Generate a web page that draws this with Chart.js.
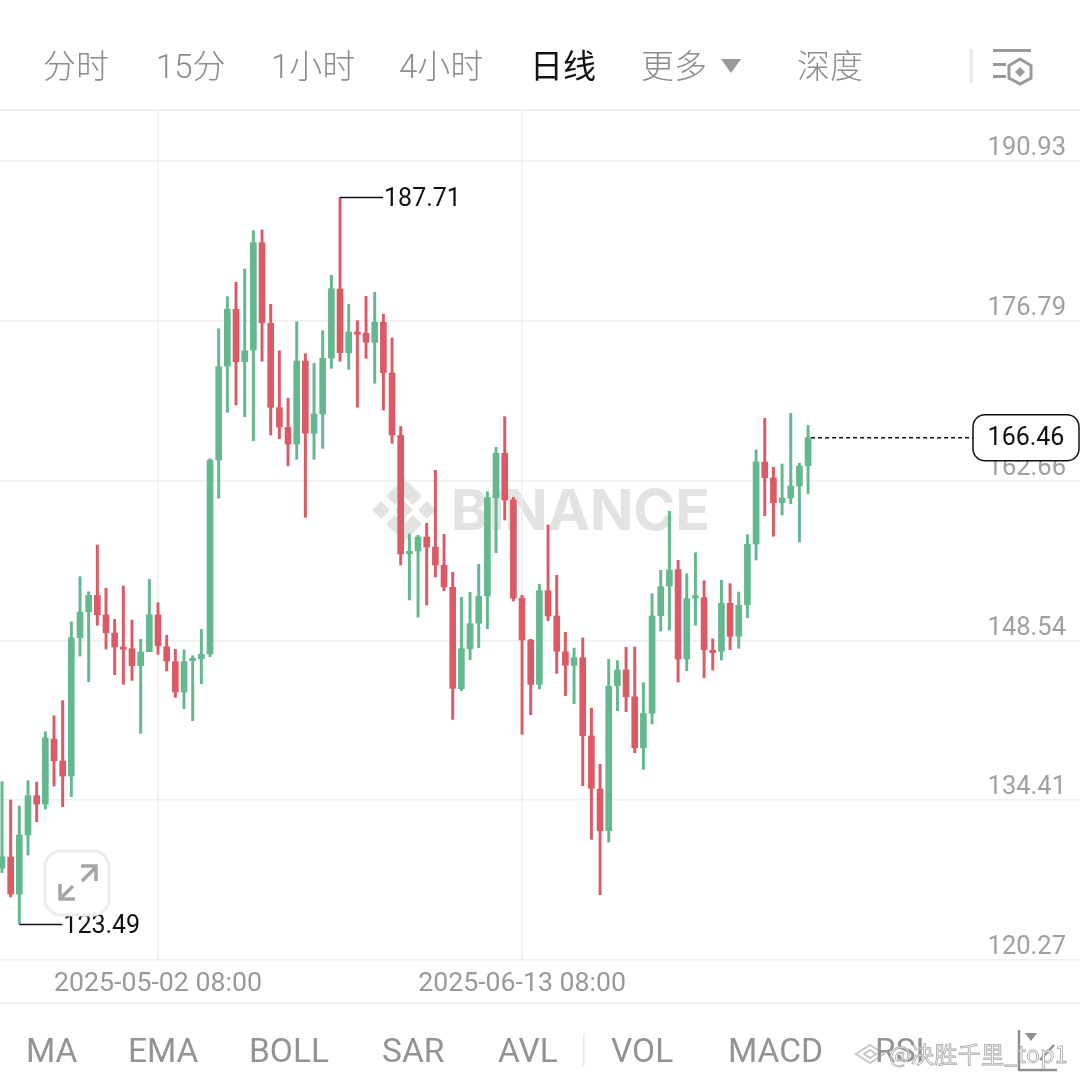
<!DOCTYPE html>
<html lang="zh"><head><meta charset="utf-8">
<script src="https://cdn.jsdelivr.net/npm/chart.js@4"></script>
<style>
html,body{margin:0;padding:0;background:#fff;width:1080px;height:1080px;overflow:hidden}
#wrap{position:relative;width:1080px;height:1080px;font-family:"Noto Sans CJK SC","Roboto",sans-serif}
canvas{position:absolute;left:0;top:0;z-index:2}
.t{position:absolute;white-space:nowrap;line-height:1;z-index:3}
.h{font:300 33px "Noto Sans CJK SC",sans-serif;color:#8c8c8c;top:40px}
.h .n{font-family:Roboto,sans-serif}
.b{font:400 33.5px Roboto,sans-serif;color:#939393;top:1031px}
.rule{position:absolute;z-index:1;background:#f0f0f0}
svg{position:absolute;z-index:3;overflow:visible}
#mark{position:absolute;left:451px;top:476px;font:700 57px Inter,sans-serif;color:#e3e3e3;letter-spacing:-.2px;z-index:1;line-height:68px}
#wm{position:absolute;left:889px;top:1041px;font:400 23px "Noto Sans CJK SC",sans-serif;color:rgba(255,255,255,.85);-webkit-text-stroke:.8px #a8a8a8;z-index:4;white-space:nowrap;line-height:1.1;letter-spacing:.3px}
</style></head><body>
<div id="wrap">
<div class="t h" style="left:43px">分时</div>
<div class="t h" style="left:156px"><span class="n">15</span>分</div>
<div class="t h" style="left:271px"><span class="n">1</span>小时</div>
<div class="t h" style="left:399px"><span class="n">4</span>小时</div>
<div class="t h" style="left:530px;color:#111;font-weight:400">日线</div>
<div class="t h" style="left:641px">更多</div>
<div class="t h" style="left:797px">深度</div>
<svg style="left:0;top:0" width="1080" height="1080">
  <polygon points="721,59 741,59 731,73" fill="#999"/>
  <rect x="970" y="49" width="2.5" height="34" fill="#e6e6e6"/>
  <rect x="993" y="49" width="38" height="3" fill="#999"/>
  <rect x="993" y="63" width="13" height="3" fill="#999"/>
  <rect x="993" y="75" width="13" height="3" fill="#999"/>
  <polygon points="1020,59 1031,65.5 1031,78 1020,84 1009,78 1009,65.5" fill="none" stroke="#999" stroke-width="3"/>
  <polygon points="1020,67 1025,72 1020,77 1015,72" fill="#999"/>
  <rect x="583" y="1034" width="1.5" height="32" fill="#e6e6e6"/>
  <line x1="1019" y1="1030" x2="1019" y2="1071" stroke="#8f8f8f" stroke-width="2.5"/>
  <line x1="1019" y1="1070" x2="1057" y2="1070" stroke="#8f8f8f" stroke-width="2.5"/>
  <polygon points="1025,1033 1037,1033 1031,1041" fill="#8f8f8f"/>
  <line x1="1040" y1="1060" x2="1054" y2="1045" stroke="#8f8f8f" stroke-width="2.5"/>
  <g fill="none" stroke="#c8c8c8" stroke-width="2">
    <polygon points="870,1045 884,1054 870,1063 856,1054"/>
    <polygon points="870,1050 876,1054 870,1058 864,1054"/>
  </g>
</svg>
<div class="rule" style="left:0;top:109px;width:1080px;height:2px"></div>
<div class="rule" style="left:0;top:1002px;width:1080px;height:1.5px"></div>
<svg style="left:0;top:0;z-index:1" width="1080" height="1080">
  <g fill="#e3e3e3">
    <polygon points="404,478 422,496 413,505 404,496 395,505 386,496"/>
    <polygon points="404,542 386,524 395,515 404,524 413,515 422,524"/>
    <polygon points="381,501 390,510 381,519 372,510"/>
    <polygon points="427,501 436,510 427,519 418,510"/>
    <polygon points="404,501 413,510 404,519 395,510"/>
  </g>
</svg>
<div id="mark">BINANCE</div>
<canvas id="c" width="1080" height="1080"></canvas>
<svg style="left:0;top:0;z-index:3" width="1080" height="1080">
  <rect x="45" y="851" width="64" height="64" rx="16" fill="rgba(255,255,255,.92)" stroke="#ededed" stroke-width="3"/>
  <g fill="none" stroke="#a6a6a6" stroke-width="3.5">
    <path d="M62 897 L73 886 M60 884 V899 H75"/>
    <path d="M96 867 L82 881 M81 866 H96 V881"/>
  </g>
</svg>
<div class="t b" style="left:26px">MA</div>
<div class="t b" style="left:128px">EMA</div>
<div class="t b" style="left:249px">BOLL</div>
<div class="t b" style="left:382px">SAR</div>
<div class="t b" style="left:498px">AVL</div>
<div class="t b" style="left:611px">VOL</div>
<div class="t b" style="left:728px">MACD</div>
<div class="t b" style="left:875px">RSI</div>
<div id="wm">@决胜千里_top1</div>
</div>
<script>
const tickDays = [18, 60];
const tickLabels = ['2025-05-02 08:00', '2025-06-13 08:00'];
const priceTicks = [190.93, 176.79, 162.66, 148.54, 134.41, 120.27];
const lastPrice = 166.46;

const opens = [128.40,129.38,126.10,131.32,134.80,134.06,139.81,137.87,136.54,148.77,151.07,152.52,150.78,149.19,147.95,147.80,146.30,147.53,150.78,147.98,146.65,143.97,146.74,146.91,147.33,164.49,172.80,177.82,173.18,174.22,183.71,176.58,169.11,167.38,165.90,173.24,166.85,168.56,173.51,179.61,173.98,175.81,175.69,174.90,176.67,172.18,166.67,156.20,156.44,157.68,156.79,155.17,153.23,144.26,147.80,150.05,152.46,161.15,165.08,160.95,152.28,148.57,144.65,152.93,150.69,147.53,146.33,147.00,140.08,135.39,131.70,144.53,145.92,143.55,139.04,142.09,150.72,153.34,154.79,146.89,152.28,152.31,147.66,147.57,151.81,148.90,151.69,157.06,164.31,162.90,160.71,161.13,162.19,163.98];
const highs = [136.04,134.42,133.89,136.13,136.01,140.46,141.87,143.20,150.19,154.17,152.84,156.97,153.14,150.40,153.34,150.34,148.63,153.94,151.87,148.98,147.75,147.68,147.18,149.51,164.60,176.10,178.93,180.20,181.38,184.77,184.83,178.26,174.15,169.94,176.72,173.89,173.04,175.92,180.82,187.71,178.26,176.81,178.97,179.32,177.37,175.28,167.45,157.94,157.83,158.89,163.58,157.92,154.56,152.34,152.79,155.26,161.68,165.61,168.32,161.19,152.52,148.63,153.49,158.74,154.29,149.25,147.86,148.75,142.55,137.58,146.86,146.74,147.92,147.95,144.79,152.66,154.73,159.95,155.62,154.43,156.29,153.81,148.66,153.85,153.55,152.81,157.88,165.37,168.17,163.84,164.13,168.62,164.20,167.56];
const lows = [127.99,125.84,123.49,129.55,132.50,133.62,135.66,133.83,134.71,147.15,144.88,149.87,147.77,145.50,144.65,145.00,140.32,147.53,147.30,145.83,143.50,142.49,141.43,144.70,147.09,161.10,168.71,169.35,168.32,166.19,173.22,166.70,166.37,163.98,164.55,159.42,164.55,165.52,172.60,173.22,172.51,169.15,173.48,171.27,168.91,165.96,155.20,152.11,150.60,151.66,154.14,152.93,141.55,144.09,146.83,147.89,149.57,156.29,159.18,152.02,140.23,141.96,144.23,150.28,145.62,143.64,142.93,135.68,130.94,126.04,130.70,142.32,142.23,138.60,137.13,141.14,149.36,149.45,144.85,145.85,149.87,145.23,145.92,146.80,147.71,147.84,150.54,155.64,159.56,157.74,159.62,160.62,157.24,161.51];
const closes = [129.40,126.10,131.32,134.80,134.06,139.90,137.89,136.54,148.77,151.04,152.52,150.81,149.21,147.95,147.75,146.30,147.51,150.81,148.06,146.71,143.97,146.65,146.95,147.30,164.49,172.74,177.82,173.18,174.15,183.71,176.63,169.15,167.41,165.90,173.24,166.85,168.56,173.48,179.64,173.98,175.81,175.60,174.90,176.67,172.21,166.70,156.17,156.41,157.68,156.79,155.20,153.26,144.30,147.80,150.01,152.43,161.15,165.08,160.95,152.28,148.57,144.65,152.93,150.69,147.57,146.33,147.00,140.11,135.45,131.70,144.50,145.92,143.55,139.04,142.09,150.69,153.28,154.76,146.89,152.22,152.49,147.71,147.45,151.81,148.90,151.64,157.03,164.31,162.92,160.71,161.13,162.19,163.96,166.46];

const GREEN = '#63b88e', RED = '#dc5a66';
const candleColors = opens.map((o, i) => closes[i] >= o ? GREEN : RED);

const annotate = {
  id: 'annotate',
  afterDatasetsDraw(chart) {
    const { ctx, scales: { x, y } } = chart;
    const hi = Math.max(...highs), lo = Math.min(...lows);
    ctx.save();
    ctx.font = '400 25px Roboto, sans-serif';
    ctx.textBaseline = 'middle';
    ctx.fillStyle = '#111';
    ctx.strokeStyle = '#111';
    ctx.lineWidth = 1.5;
    const callout = (idx, value) => {
      const px = x.getPixelForValue(idx), py = Math.round(y.getPixelForValue(value)) + .5;
      ctx.beginPath(); ctx.moveTo(px, py); ctx.lineTo(px + 43, py); ctx.stroke();
      ctx.textAlign = 'left';
      ctx.fillText(value.toFixed(2), px + 44, py + 2);
    };
    callout(highs.indexOf(hi), hi);
    callout(lows.indexOf(lo), lo);
    const lx = x.getPixelForValue(opens.length - 1) + 3, ly = y.getPixelForValue(lastPrice);
    ctx.setLineDash([4, 3]);
    ctx.beginPath(); ctx.moveTo(lx, ly); ctx.lineTo(973, ly); ctx.stroke();
    ctx.setLineDash([]);
    ctx.beginPath(); ctx.roundRect(973, ly - 23, 106, 46, 12);
    ctx.fillStyle = '#fff'; ctx.fill(); ctx.stroke();
    ctx.fillStyle = '#111'; ctx.textAlign = 'center';
    ctx.fillText(lastPrice.toFixed(2), 1026, ly + 1);
    ctx.restore();
  }
};

new Chart(document.getElementById('c'), {
  type: 'bar',
  data: {
    datasets: [
      { label: 'range', data: opens.map((_, i) => ({ x: i, y: [lows[i], highs[i]] })),
        backgroundColor: candleColors, barThickness: 2.3, order: 2, grouped: false },
      { label: 'body', data: opens.map((o, i) => ({ x: i, y: [o, closes[i]] })),
        backgroundColor: candleColors, barThickness: 6, order: 1, grouped: false }
    ]
  },
  options: {
    responsive: false, animation: false, devicePixelRatio: 1,
    layout: { padding: { top: 110, bottom: 78, left: 0, right: 0 } },
    plugins: { legend: { display: false }, tooltip: { enabled: false } },
    scales: {
      x: {
        type: 'linear', min: -0.23, max: 124.37, offset: false,
        afterBuildTicks: s => { s.ticks = tickDays.map(v => ({ value: v })); },
        afterFit: s => { s.height = 42; s.paddingLeft = 0; s.paddingRight = 0; },
        grid: { color: '#efefef', lineWidth: 1.5, drawTicks: false, offset: false },
        border: { display: false },
        ticks: { autoSkip: false, maxRotation: 0, padding: 8, color: '#999',
          font: { family: 'Roboto', size: 26.7 },
          callback: v => tickLabels[tickDays.indexOf(v)] }
      },
      y: {
        position: 'right', min: 120.27, max: 195.44,
        afterBuildTicks: s => { s.ticks = priceTicks.map(v => ({ value: v })); },
        afterFit: s => { s.width = 0; s.paddingTop = 0; s.paddingBottom = 0; },
        grid: { color: '#efefef', lineWidth: 1.5, drawTicks: false },
        border: { display: false },
        ticks: { mirror: true, padding: -14, labelOffset: -12, autoSkip: false, color: '#a0a0a0',
          font: { family: 'Roboto', size: 25.5 },
          callback: v => v.toFixed(2) }
      }
    }
  },
  plugins: [annotate]
});
</script>
</body></html>
